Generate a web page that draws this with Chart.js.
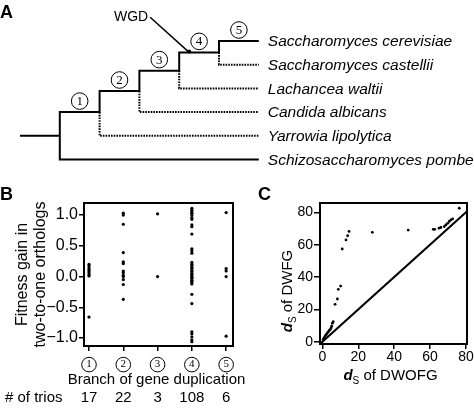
<!DOCTYPE html>
<html>
<head>
<meta charset="utf-8">
<script src="https://cdn.jsdelivr.net/npm/chart.js@4.4.1/dist/chart.umd.min.js"></script>
<style>
  html, body { margin: 0; padding: 0; background: #fff; }
  #wrap { position: relative; width: 474px; height: 411px; overflow: hidden; }
  canvas { position: absolute; }
</style>
</head>
<body>
<div id="wrap">
  <canvas id="tree" width="474" height="185" style="left:0;top:0"></canvas>
  <canvas id="fit" width="250" height="226" style="left:0;top:185px"></canvas>
  <canvas id="ds" width="224" height="226" style="left:250px;top:185px"></canvas>
</div>
<script>
// ---- panel A: species tree ----
const leafNames = ['Saccharomyces cerevisiae', 'Saccharomyces castellii', 'Lachancea waltii',
                   'Candida albicans', 'Yarrowia lipolytica', 'Schizosaccharomyces pombe'];
const nodeDepth = [1, 2, 3, 4, 5];              // backbone nodes, root -> tip
const inLevel = [4, 3, 2.11, 1.25, 0.48];       // level of the branch entering each node
const outLevel = [3, 2.11, 1.25, 0.48, 0];      // level of the backbone leaving each node
const sisterLeaf = [5, 4, 3, 2, 1];             // leaf that splits off at each node
const sisterDotted = [false, true, true, true, true];
const tipDepth = 6;
const branchNumbers = ['1', '2', '3', '4', '5'];
const wgdLabel = 'WGD';
const wgdFrom = { x: 3.27, y: -1.0 };
const wgdTo = { x: 4.25, y: 0.48 };

// ---- panel B: fitness gain per branch ----
const branchTicks = [1, 2, 3, 4, 5];
const fitnessBranch1 = [0.2, 0.17, 0.14, 0.11, 0.09, 0.06, 0.03, 0.01, -0.66];
const fitnessBranch2 = [1.03, 1.0, 0.85, 0.39, 0.24, 0.21, 0.09, 0.06, 0.02, 0.0, -0.05, -0.13, -0.37];
const fitnessBranch3 = [1.02, 0.0];
const fitnessBranch4 = [1.11, 1.08, 1.05, 1.03, 1.0, 0.96, 0.93, 0.84, 0.81, 0.69, 0.45, 0.42, 0.38,
                        0.23, 0.2, 0.18, 0.15, 0.13, 0.1, 0.08, 0.05, 0.03, 0.01, -0.01, -0.03, -0.06,
                        -0.08, -0.1, -0.12, -0.29, -0.44, -0.9, -0.93, -0.98, -1.03, -1.06];
const fitnessBranch5 = [1.04, 0.13, 0.09, 0.0, -0.97];
const fitnessTicks = [-1, -0.5, 0, 0.5, 1];
const trioCounts = [17, 22, 3, 108, 6];

// ---- panel C: dS with vs without fitness gain ----
const dsDWOFG = [0.3, 0.8, 1.3, 1.8, 2.3, 2.8, 3.3, 3.8, 4.3, 4.8, 5.1, 5.5, 6.0, 7.0, 8.3, 8.8, 10.1,
                 11.0, 13.1, 14.0, 14.8, 27.8, 47.8, 61.8, 62.6, 65.0, 66.0, 67.9, 68.8, 69.8, 70.7,
                 71.6, 72.6, 76.3];
const dsDWFG = [1.2, 2.2, 3.2, 4.0, 4.8, 5.5, 6.2, 7.0, 7.6, 8.4, 9.6, 11.4, 12.4, 23.1, 26.4, 32.4,
                34.4, 57.3, 62.9, 65.5, 68.2, 67.6, 69.0, 69.5, 69.5, 70.2, 70.6, 71.2, 72.2, 73.2,
                74.3, 75.3, 75.9, 82.5];
const dsTicks = [0, 20, 40, 60, 80];
const identityLine = [-1.5, 82];

const SANS = '"Liberation Sans", Arial, sans-serif';
const SERIF = '"Liberation Serif", "DejaVu Serif", serif';
Chart.defaults.font.family = SANS;
Chart.defaults.color = '#000';

function circled(ctx, cx, cy, r, txt, size) {
  ctx.beginPath();
  ctx.arc(cx, cy, r, 0, Math.PI * 2);
  ctx.lineWidth = 1;
  ctx.strokeStyle = '#000';
  ctx.stroke();
  ctx.font = size + 'px ' + SERIF;
  ctx.textAlign = 'center';
  ctx.textBaseline = 'middle';
  ctx.fillStyle = '#000';
  ctx.fillText(txt, cx, cy + 0.5);
}

function panelLetter(ctx, letter, x, y) {
  ctx.font = 'bold 18px ' + SANS;
  ctx.textAlign = 'left';
  ctx.textBaseline = 'alphabetic';
  ctx.fillStyle = '#000';
  ctx.fillText(letter, x, y);
}

// ---------------- A ----------------
const backbone = [{ x: 0, y: inLevel[0] }];
nodeDepth.forEach((d, i) => {
  backbone.push({ x: d, y: inLevel[i] }, { x: d, y: outLevel[i] });
});
backbone.push({ x: tipDepth, y: outLevel[outLevel.length - 1] });

const treeSets = [{ data: backbone, borderDash: [] }];
nodeDepth.forEach((d, i) => {
  treeSets.push({
    data: [{ x: d, y: inLevel[i] }, { x: d, y: sisterLeaf[i] }, { x: tipDepth, y: sisterLeaf[i] }],
    borderDash: sisterDotted[i] ? [1.6, 1.1] : []
  });
});

new Chart(document.getElementById('tree'), {
  type: 'scatter',
  data: {
    datasets: treeSets.map(s => ({
      data: s.data, showLine: true, pointRadius: 0, borderColor: '#000',
      borderWidth: 2, borderDash: s.borderDash
    }))
  },
  options: {
    responsive: false, animation: false, events: [],
    layout: { padding: 0 },
    plugins: { legend: { display: false }, tooltip: { enabled: false } },
    scales: {
      x: { display: false, min: -0.5025, max: 11.407 },
      y: { display: false, reverse: true, min: -1.73, max: 6.076 }
    }
  },
  plugins: [{
    id: 'treeText',
    afterDatasetsDraw(chart) {
      const { ctx, scales: { x, y } } = chart;
      ctx.save();
      panelLetter(ctx, 'A', 0, 18);
      ctx.font = 'italic 15.5px ' + SANS;
      ctx.textAlign = 'left';
      ctx.textBaseline = 'middle';
      leafNames.forEach((n, i) => ctx.fillText(n, x.getPixelForValue(tipDepth) + 9, y.getPixelForValue(i) + 1));
      branchNumbers.forEach((n, i) => {
        circled(ctx, x.getPixelForValue(nodeDepth[i] + 0.5), y.getPixelForValue(outLevel[i]) - 11, 8.3, n, 13);
      });
      // WGD pointer
      const fx = x.getPixelForValue(wgdFrom.x), fy = y.getPixelForValue(wgdFrom.y);
      const tx = x.getPixelForValue(wgdTo.x), ty = y.getPixelForValue(wgdTo.y);
      ctx.beginPath();
      ctx.moveTo(fx, fy);
      ctx.lineTo(tx, ty);
      ctx.lineWidth = 1.5;
      ctx.stroke();
      ctx.beginPath();
      ctx.arc(tx, ty - 1, 2, 0, Math.PI * 2);
      ctx.fill();
      ctx.font = '14px ' + SANS;
      ctx.textAlign = 'right';
      ctx.textBaseline = 'middle';
      ctx.fillText(wgdLabel, fx - 2, fy);
      ctx.restore();
    }
  }]
});

// shared box plugin
const boxPlugin = {
  id: 'box',
  afterDraw(chart) {
    const { ctx, chartArea: a } = chart;
    ctx.save();
    ctx.lineWidth = 2;
    ctx.strokeStyle = '#000';
    ctx.strokeRect(a.left, a.top, a.right - a.left, a.bottom - a.top);
    ctx.restore();
  }
};
function noPad(s) { s.paddingLeft = 0; s.paddingRight = 0; s.paddingTop = 0; s.paddingBottom = 0; }

// ---------------- B ----------------
const fitnessSeries = [fitnessBranch1, fitnessBranch2, fitnessBranch3, fitnessBranch4, fitnessBranch5];
const fitPoints = [];
fitnessSeries.forEach((vals, i) => vals.forEach(v => fitPoints.push({ x: branchTicks[i], y: v })));

const B_TICK = 5, B_PAD = 7;
new Chart(document.getElementById('fit'), {
  type: 'scatter',
  data: { datasets: [{ data: fitPoints, pointRadius: 1.6, backgroundColor: '#000', borderWidth: 0 }] },
  options: {
    responsive: false, animation: false, events: [],
    layout: { padding: { top: 18, right: 17, left: 0, bottom: 0 } },
    plugins: { legend: { display: false }, tooltip: { enabled: false } },
    scales: {
      x: {
        type: 'linear', min: 0.854, max: 5.2,
        afterBuildTicks: s => { s.ticks = branchTicks.map(v => ({ value: v })); },
        afterFit: s => { s.height = 65; noPad(s); },
        grid: { drawOnChartArea: false, drawTicks: true, tickLength: B_TICK, color: '#000', lineWidth: 1.5 },
        border: { display: true, color: '#000', width: 2 },
        ticks: { callback: v => String(v), font: { family: SERIF, size: 11 }, padding: B_PAD, maxRotation: 0 },
        title: { display: false }
      },
      y: {
        min: -1.13, max: 1.196,
        afterBuildTicks: s => { s.ticks = fitnessTicks.map(v => ({ value: v })); },
        afterFit: s => { s.width = 84; noPad(s); },
        grid: { drawOnChartArea: false, drawTicks: true, tickLength: 5, color: '#000', lineWidth: 1.5 },
        border: { display: true, color: '#000', width: 2 },
        ticks: { callback: v => v.toFixed(1).replace('-', '\u2212'), font: { size: 16 }, padding: 1 },
        title: { display: true, text: ['Fitness gain in', 'two-to-one orthologs'],
                 font: { size: 16, lineHeight: 1.1 }, padding: { top: 14, bottom: 0 } }
      }
    }
  },
  plugins: [boxPlugin, {
    id: 'fitExtras',
    afterDraw(chart) {
      const { ctx, chartArea: a, scales: { x } } = chart;
      ctx.save();
      panelLetter(ctx, 'B', 0, 15);
      const cy = a.bottom + B_TICK + B_PAD + 6.6;
      branchTicks.forEach(v => {
        ctx.beginPath();
        ctx.arc(x.getPixelForValue(v), cy, 7.3, 0, Math.PI * 2);
        ctx.lineWidth = 1;
        ctx.strokeStyle = '#000';
        ctx.stroke();
      });
      ctx.fillStyle = '#000';
      ctx.textBaseline = 'middle';
      ctx.font = '15px ' + SANS;
      ctx.textAlign = 'center';
      ctx.fillText('Branch of gene duplication', (a.left + a.right) / 2 - 2, 195);
      ctx.textAlign = 'left';
      ctx.fillText('# of trios', 5, 213);
      ctx.textAlign = 'center';
      trioCounts.forEach((n, i) => ctx.fillText(String(n), x.getPixelForValue(branchTicks[i]), 213));
      ctx.restore();
    }
  }]
});

// ---------------- C ----------------
const dsPoints = dsDWOFG.map((v, i) => ({ x: v, y: dsDWFG[i] }));
function dsLabel(ctx, cx, cy, rest, rotate) {
  ctx.save();
  ctx.translate(cx, cy);
  if (rotate) ctx.rotate(-Math.PI / 2);
  const f1 = 'italic bold 15px ' + SANS, f2 = '10px ' + SANS, f3 = '15px ' + SANS;
  ctx.font = f1; const w1 = ctx.measureText('d').width;
  ctx.font = f2; const w2 = ctx.measureText('S').width;
  ctx.font = f3; const w3 = ctx.measureText(rest).width;
  let xx = -(w1 + w2 + w3) / 2;
  ctx.textAlign = 'left';
  ctx.textBaseline = 'alphabetic';
  ctx.fillStyle = '#000';
  ctx.font = f1; ctx.fillText('d', xx, 5); xx += w1;
  ctx.font = f2; ctx.fillText('S', xx, 9); xx += w2;
  ctx.font = f3; ctx.fillText(rest, xx, 5);
  ctx.restore();
}

new Chart(document.getElementById('ds'), {
  type: 'scatter',
  data: {
    datasets: [
      { data: dsPoints, pointRadius: 1.4, backgroundColor: '#000', borderWidth: 0 },
      { data: identityLine.map(v => ({ x: v, y: v })), showLine: true, pointRadius: 0,
        borderColor: '#000', borderWidth: 2 }
    ]
  },
  options: {
    responsive: false, animation: false, events: [],
    layout: { padding: { top: 18, right: 7, left: 0, bottom: 0 } },
    plugins: { legend: { display: false }, tooltip: { enabled: false } },
    scales: {
      x: {
        min: -1.4, max: 80.6,
        afterBuildTicks: s => { s.ticks = dsTicks.map(v => ({ value: v })); },
        afterFit: s => { s.height = 67; noPad(s); },
        grid: { drawOnChartArea: false, drawTicks: true, tickLength: 5, color: '#000', lineWidth: 1.5 },
        border: { display: true, color: '#000', width: 2 },
        ticks: { font: { size: 14 }, padding: 0, maxRotation: 0 }
      },
      y: {
        min: -1.42, max: 85.75,
        afterBuildTicks: s => { s.ticks = dsTicks.map(v => ({ value: v })); },
        afterFit: s => { s.width = 70; noPad(s); },
        grid: { drawOnChartArea: false, drawTicks: true, tickLength: 6, color: '#000', lineWidth: 1.5 },
        border: { display: true, color: '#000', width: 2 },
        ticks: { font: { size: 14 }, padding: 1 }
      }
    }
  },
  plugins: [boxPlugin, {
    id: 'dsExtras',
    afterDraw(chart) {
      const { ctx, chartArea: a } = chart;
      ctx.save();
      panelLetter(ctx, 'C', 8, 15);
      dsLabel(ctx, a.left - 33, a.top + 88, ' of DWFG', true);
      dsLabel(ctx, (a.left + a.right) / 2 - 3, a.bottom + 31, ' of DWOFG', false);
      ctx.restore();
    }
  }]
});
</script>
</body>
</html>
